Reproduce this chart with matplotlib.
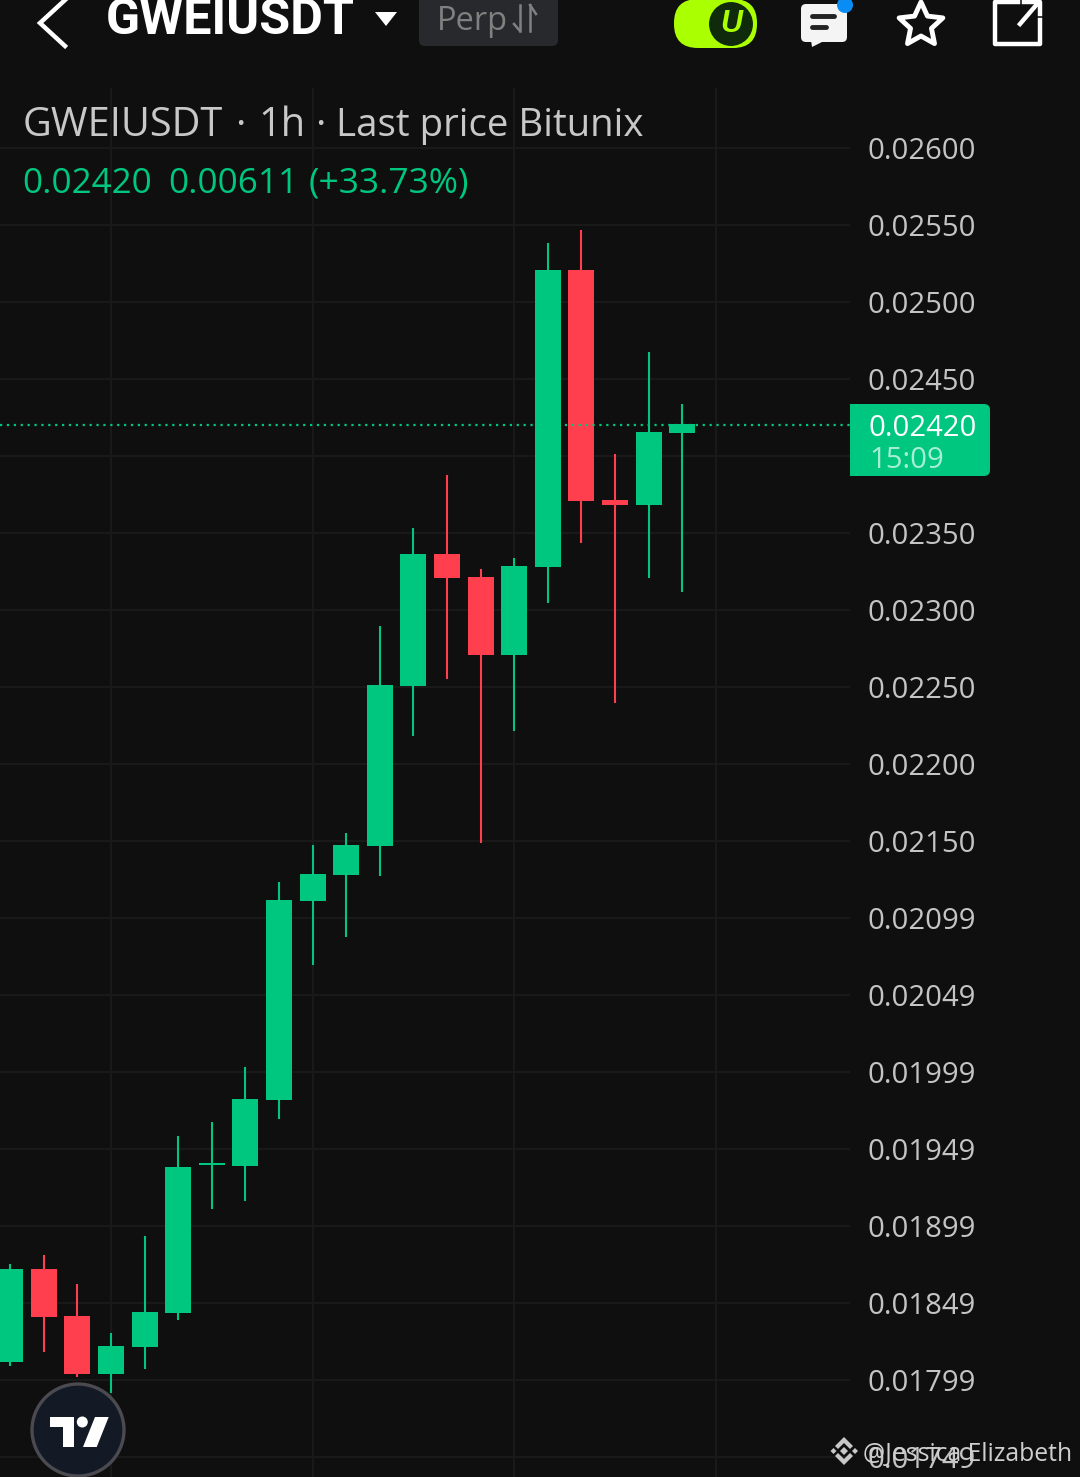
import numpy as np
import matplotlib
matplotlib.use("Agg")
import matplotlib.pyplot as plt
from matplotlib.patches import FancyBboxPatch, Circle, Polygon, Rectangle

# candles, 1h, oldest first
opens = [0.018117, 0.018721, 0.018416, 0.018039, 0.018214, 0.018435, 0.019396,
         0.019390, 0.019818, 0.021110, 0.021279, 0.021468, 0.022506, 0.023364,
         0.023214, 0.022708, 0.023279, 0.025208, 0.023714, 0.023682, 0.024149]
highs = [0.018753, 0.018812, 0.018623, 0.018305, 0.018935, 0.019584, 0.019675,
         0.020032, 0.021234, 0.021474, 0.021552, 0.022896, 0.023532, 0.023877,
         0.023266, 0.023338, 0.025383, 0.025468, 0.024013, 0.024675, 0.024338]
lows = [0.018091, 0.018182, 0.018019, 0.017916, 0.018071, 0.018390, 0.019110,
        0.019162, 0.019695, 0.020695, 0.020877, 0.021273, 0.022182, 0.022552,
        0.021487, 0.022214, 0.023045, 0.023435, 0.022396, 0.023208, 0.023117]
closes = [0.018721, 0.018409, 0.018039, 0.018221, 0.018442, 0.019383, 0.019409,
          0.019825, 0.021117, 0.021286, 0.021474, 0.022513, 0.023364, 0.023208,
          0.022708, 0.023286, 0.025208, 0.023708, 0.023682, 0.024156, 0.024208]

tick_prices = [0.0260, 0.0255, 0.0250, 0.0245, 0.0240, 0.0235, 0.0230, 0.0225,
               0.0220, 0.0215, 0.0210, 0.0205, 0.0200, 0.0195, 0.0190, 0.0185,
               0.0180, 0.0175]
tick_labels = ["0.02600", "0.02550", "0.02500", "0.02450", "", "0.02350", "0.02300",
               "0.02250", "0.02200", "0.02150", "0.02099", "0.02049", "0.01999",
               "0.01949", "0.01899", "0.01849", "0.01799", "0.01749"]
grid_candles = [3, 9, 15, 21]
last_price = 0.02420

BG = "#0f0f0f"
GREEN = "#00c77f"
RED = "#ff3f4d"
GRID = "#191919"
FONT = "Open Sans"

fig = plt.figure(figsize=(10.8, 14.77), dpi=100, facecolor=BG)

# price pane stops at x=850, the price scale sits to its right
ax = fig.add_axes([0, 0, 850 / 1080, 1], facecolor=BG)
ax.set_xlim(-10.25 / 33.6, 839.75 / 33.6)
ax.set_ylim(0.017370, 0.026961)
for s in ax.spines.values():
    s.set_visible(False)

ax.yaxis.tick_right()
ax.set_yticks(tick_prices)
ax.set_yticklabels(tick_labels, family=FONT, fontsize=21.05, color="#c4c4c4")
ax.tick_params(axis="y", length=0, pad=12.4)
ax.set_xticks([])
ax.grid(axis="y", color=GRID, lw=1.5, zorder=0)
ax.vlines(grid_candles, 0.017370, 0.02639, color=GRID, lw=1.5, zorder=0)

x = np.arange(len(opens))
o = np.array(opens)
c = np.array(closes)
colors = [GREEN if b >= a else RED for a, b in zip(o, c)]
ax.vlines(x, lows, highs, color=colors, lw=1.5, zorder=2)
ax.bar(x, np.abs(c - o), bottom=np.minimum(o, c), width=0.774, color=colors, lw=0, zorder=3)
ax.axhline(last_price, color=GREEN, lw=1.6, ls=(0, (1, 2.1)), zorder=4)

# everything else is app chrome, drawn in pixel coordinates
ui = fig.add_axes([0, 0, 1, 1], facecolor="none")
ui.set_xlim(0, 1080)
ui.set_ylim(1477, 0)
ui.axis("off")

ui.text(23, 126, "GWEIUSDT", family=FONT, fontsize=28.6, color="#c8c8c8", va="center")
ui.text(240, 126, "·", family=FONT, fontsize=28.6, color="#c8c8c8", va="center", ha="center")
ui.text(258, 126, "1h", family=FONT, fontsize=28.6, color="#c8c8c8", va="center")
ui.text(320, 126, "·", family=FONT, fontsize=28.6, color="#c8c8c8", va="center", ha="center")
ui.text(336, 126, "Last price Bitunix", family=FONT, fontsize=27.6, color="#c8c8c8", va="center")
ui.text(22, 184, "0.02420", family=FONT, fontsize=25.3, color=GREEN, va="center")
ui.text(168, 184, "0.00611", family=FONT, fontsize=25.3, color=GREEN, va="center")
ui.text(309, 184, "(+33.73%)", family=FONT, fontsize=25.5, color=GREEN, va="center")

# last price tag
ui.add_patch(FancyBboxPatch((856, 404), 134, 72, boxstyle="round,pad=0,rounding_size=6",
                            fc=GREEN, ec="none", zorder=5))
ui.add_patch(Rectangle((850, 404), 20, 72, fc=GREEN, ec="none", zorder=5))
ui.text(869, 428, "0.02420", family=FONT, fontsize=21.05, color="white", va="center", zorder=6)
ui.text(869, 460, "15:09", family=FONT, fontsize=21.05, color="#a6efd4", va="center", zorder=6)

# top bar
ui.plot([65, 40, 65], [0, 23, 46], color="white", lw=3.2, solid_joinstyle="miter")
ui.text(106, 21, "GWEIUSDT", family="Roboto", weight="bold", fontsize=36.2,
        color="white", va="center", clip_on=True)
ui.add_patch(Polygon([(375, 12), (397, 12), (386, 26)], fc="white", ec="none"))

ui.add_patch(FancyBboxPatch((419, -12), 139, 58, boxstyle="round,pad=0,rounding_size=6",
                            fc="#28292c", ec="none"))
ui.text(437, 21, "Perp", family=FONT, fontsize=23.5, color="#808080", va="center")
ui.plot([520, 520], [5, 31], color="#808080", lw=1.8)
ui.plot([514, 520], [24, 31], color="#808080", lw=1.8)
ui.plot([530, 530], [5, 31], color="#808080", lw=1.8)
ui.plot([530, 536], [5, 14], color="#808080", lw=1.8)

ui.add_patch(FancyBboxPatch((674, -1), 83, 49, boxstyle="round,pad=0,rounding_size=24",
                            fc="#aaff00", ec="none"))
ui.add_patch(Circle((731, 24), 23, fc="#0f2b0c", ec="#aaff00", lw=1.5))
ui.text(731, 24, "U", family="Liberation Sans", weight="bold", style="italic", fontsize=22,
        color="#aaff00", ha="center", va="center")

ui.add_patch(FancyBboxPatch((801, 4), 46, 38, boxstyle="round,pad=0,rounding_size=5",
                            fc="#f4f4f4", ec="none"))
ui.add_patch(Polygon([(811, 40), (826, 40), (812, 47)], fc="#f4f4f4", ec="none"))
ui.plot([812, 834], [16, 16], color="#222222", lw=3.5, solid_capstyle="round")
ui.plot([812, 826], [27, 27], color="#222222", lw=3.5, solid_capstyle="round")
ui.add_patch(Circle((845, 5), 8, fc="#0a8cf5", ec="none"))

ang = np.deg2rad(-90 + 36 * np.arange(10))
rad = np.where(np.arange(10) % 2 == 0, 23, 11)
ui.add_patch(Polygon(np.column_stack([921 + rad * np.cos(ang), 25 + rad * np.sin(ang)]),
                     fc="none", ec="white", lw=3.5, joinstyle="round"))

ui.plot([1018, 995, 995, 1040, 1040], [2, 2, 44, 44, 20], color="white", lw=3.2,
        solid_joinstyle="round")
ui.plot([1020, 1038], [24, 3], color="white", lw=3.2)
ui.plot([1024, 1040, 1040], [2, 2, 14], color="white", lw=3.2)

# tradingview badge
ui.add_patch(Circle((78, 1430), 46, fc="#131a25", ec="#4a4a50", lw=2.4, zorder=5))
ui.add_patch(Polygon([(50, 1417), (74, 1417), (74, 1447), (63, 1447), (63, 1427), (50, 1427)],
                     fc="white", ec="none", zorder=6))
ui.add_patch(Circle((82.3, 1422), 5.5, fc="white", ec="none", zorder=6))
ui.add_patch(Polygon([(95, 1417), (108.7, 1417), (96.7, 1447), (83, 1447)],
                     fc="white", ec="none", zorder=6))

# binance watermark
for cx, cy, r in [(833.5, 1451, 3), (855, 1451, 3), (844, 1451, 4)]:
    ui.add_patch(Polygon([(cx, cy - r), (cx + r, cy), (cx, cy + r), (cx - r, cy)],
                         fc="#c8c8c8", ec="none", zorder=6))
ui.add_patch(Polygon([(844, 1437), (853, 1446), (850, 1449), (844, 1443), (838, 1449), (835, 1446)],
                     fc="#c8c8c8", ec="none", zorder=6))
ui.add_patch(Polygon([(844, 1465), (853, 1456), (850, 1453), (844, 1459), (838, 1453), (835, 1456)],
                     fc="#c8c8c8", ec="none", zorder=6))
ui.text(863, 1454, "@Jessica Elizabeth", family=FONT, fontsize=17.8, color="#cfcfcf",
        va="center", zorder=6)

fig.savefig("out.png", dpi=100, facecolor=BG)
